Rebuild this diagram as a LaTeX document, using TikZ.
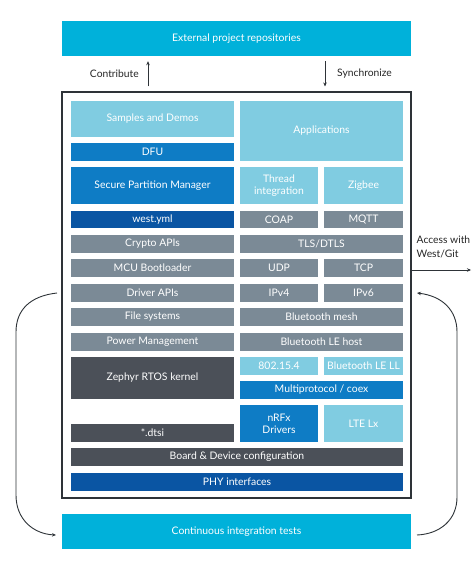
\documentclass[tikz,border=0pt]{standalone}
\usepackage{fontspec}
\setmainfont{Lato}
\usetikzlibrary{arrows.meta}
\definecolor{cyanbar}{HTML}{00B1DA}
\definecolor{lightb}{HTML}{80CCE1}
\definecolor{medb}{HTML}{0E7CC5}
\definecolor{darkb}{HTML}{0A55A3}
\definecolor{grayb}{HTML}{7B8A96}
\definecolor{dgray}{HTML}{4B5058}
\definecolor{linec}{HTML}{2E3338}
\tikzset{
  box/.style={inner sep=0pt, text=white, font=\fontsize{10.4}{12}\selectfont, align=center},
  lbl/.style={inner sep=0pt, text=black!85, font=\fontsize{10.3}{14}\selectfont, align=left},
  conn/.style={draw=linec, line width=0.9pt, -{Stealth[length=4pt,width=3.5pt]}},
}
\newcommand\bx[7]{\node[box,fill=#6,minimum width={(#4-#2)*1pt},minimum height={(#5-#3)*1pt}] (#1) at ({(#2+#4)/2},{(#3+#5)/2}) {#7};}
\begin{document}
\begin{tikzpicture}[x=1pt,y=-1pt]
\useasboundingbox (0,0) rectangle (474,569);
\fill[white] (0,0) rectangle (474,569);
% outer frame
\node[draw=linec, line width=1.1pt, inner sep=0pt, minimum width=349pt, minimum height=406pt] (frame) at (236.5,295) {};
\bx{ext}{62}{21}{411}{56}{cyanbar}{External project repositories}
\bx{ci}{62}{514}{411}{549}{cyanbar}{Continuous integration tests}
\bx{samples}{71}{101}{234}{137}{lightb}{Samples and Demos}
\bx{apps}{240}{101}{403}{161}{lightb}{Applications}
\bx{dfu}{71}{143}{234}{161}{medb}{DFU}
\bx{spm}{71}{167}{234}{204}{medb}{Secure Partition Manager}
\bx{thread}{240}{167}{318}{204}{lightb}{Thread\\integration}
\bx{zigbee}{324}{167}{403}{204}{lightb}{Zigbee}
\bx{westyml}{71}{211}{234}{228}{darkb}{west.yml}
\bx{coap}{240}{211}{318}{228}{grayb}{COAP}
\bx{mqtt}{324}{211}{403}{228}{grayb}{MQTT}
\bx{crypto}{71}{235}{234}{253}{grayb}{Crypto APIs}
\bx{tls}{240}{235}{403}{253}{grayb}{TLS/DTLS}
\bx{mcu}{71}{259}{234}{277}{grayb}{MCU Bootloader}
\bx{udp}{240}{259}{318}{277}{grayb}{UDP}
\bx{tcp}{324}{259}{403}{277}{grayb}{TCP}
\bx{driver}{71}{284}{234}{302}{grayb}{Driver APIs}
\bx{ipv4}{240}{284}{318}{302}{grayb}{IPv4}
\bx{ipv6}{324}{284}{403}{302}{grayb}{IPv6}
\bx{fs}{71}{308}{234}{326}{grayb}{File systems}
\bx{mesh}{240}{308}{403}{326}{grayb}{Bluetooth mesh}
\bx{power}{71}{333}{234}{351}{grayb}{Power Management}
\bx{blehost}{240}{333}{403}{351}{grayb}{Bluetooth LE host}
\bx{zephyr}{71}{357}{234}{399}{dgray}{Zephyr RTOS kernel}
\bx{ieee}{240}{357}{318}{375}{lightb}{802.15.4}
\bx{blell}{324}{357}{403}{375}{lightb}{Bluetooth LE LL}
\bx{multi}{240}{381}{403}{399}{medb}{Multiprotocol / coex}
\bx{dtsi}{71}{424}{234}{442}{dgray}{*.dtsi}
\bx{nrfx}{240}{405}{318}{442}{medb}{nRFx\\Drivers}
\bx{lte}{324}{405}{403}{442}{lightb}{LTE Lx}
\bx{board}{71}{448}{403}{466}{dgray}{Board \& Device configuration}
\bx{phy}{71}{473}{403}{491}{darkb}{PHY interfaces}
% labels
\node[lbl, anchor=east] (contrib) at (139,74) {Contribute};
\node[lbl, anchor=west] (sync) at (337,74) {Synchronize};
\node[lbl, anchor=west] (access) at (416.5,247) {Access with\\West/Git};
% arrows
\coordinate (cx) at (148,0);
\coordinate (sx) at (325,0);
\draw[conn, shorten <=5pt, shorten >=5pt] (frame.north -| cx) -- (ext.south -| cx);
\draw[conn, shorten <=5pt, shorten >=5pt] (ext.south -| sx) -- (frame.north -| sx);
\coordinate (accend) at (471,270);
\draw[conn] (frame.east |- accend) -- (accend);
\coordinate (lstart) at (57,293);
\coordinate (lend) at (56,535);
\draw[conn] (lstart) .. controls (30,296) and (16,310) .. (16,332) -- (16,495) .. controls (16,520) and (34,534) .. (lend);
\coordinate (rstart) at (417,535);
\coordinate (rend) at (417,293);
\draw[conn] (rstart) .. controls (440,534) and (457,520) .. (457,497) -- (457,332) .. controls (457,310) and (442,296) .. (rend);
\end{tikzpicture}
\end{document}
